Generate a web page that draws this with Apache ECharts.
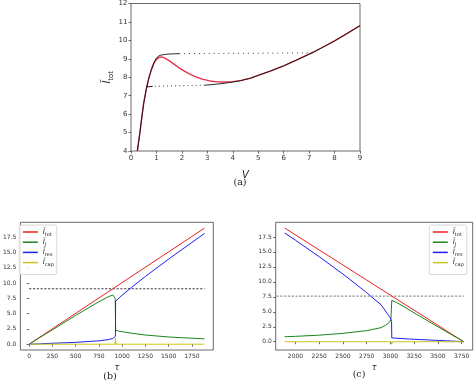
<!DOCTYPE html>
<html><head><meta charset="utf-8">
<script src="https://cdn.jsdelivr.net/npm/echarts@6/dist/echarts.min.js"></script>
<style>html,body{margin:0;padding:0;background:#fff}#c{width:474px;height:386px}</style>
</head><body><div id="c"></div>
<script>
// ---------- panel (a): I-V curve ----------
const aRedV = [0.25,0.3,0.35,0.42,0.5,0.6,0.7,0.8,0.9,1.0,1.1,1.2,1.35,1.5,1.7,1.9,2.2,2.5,2.8,3.1,3.4,3.7,4.0,4.3,4.7,5.0,5.5,6.0,6.5,7.0,7.5,8.0,8.5,9.0];
const aRedI = [4.0,4.5,5.0,5.8,6.6,7.35,7.95,8.4,8.75,8.97,9.08,9.1,9.02,8.9,8.7,8.5,8.25,8.05,7.9,7.8,7.75,7.74,7.76,7.82,7.95,8.1,8.35,8.62,8.93,9.25,9.6,9.97,10.38,10.8];
const aUpV = [0.25,0.35,0.5,0.6,0.7,0.8,0.9,1.0,1.1,1.2,1.35,1.5,1.7,1.9];
const aUpI = [4.0,5.0,6.6,7.35,7.95,8.42,8.8,9.05,9.16,9.21,9.24,9.26,9.27,9.28];
const aUpDotV = [1.9,7.15];
const aUpDotI = [9.28,9.32];
const aLowV = [9.0,8.5,8.0,7.5,7.15,7.0,6.5,6.0,5.5,5.0,4.7,4.3,4.0,3.7,3.4,3.1,2.9];
const aLowI = [10.8,10.38,9.97,9.6,9.34,9.25,8.93,8.62,8.35,8.1,7.95,7.81,7.74,7.68,7.63,7.59,7.57];
const aLowDotV = [2.9,0.6];
const aLowDotI = [7.57,7.5];
const aLowSolidV = [0.6,0.85];
const aLowSolidI = [7.48,7.5];
const aXTicks = [0,1,2,3,4,5,6,7,8,9];
const aYTicks = [4,5,6,7,8,9,10,11,12];

// ---------- panel (b): increasing current ----------
const bTotT = [0,1886];
const bTotV = [0,19];
const bJT = [0,100,250,500,750,850,900,920,926,930,960,1000,1100,1250,1500,1750,1886];
const bJV = [0,0.95,2.35,4.7,6.95,7.75,8.05,8.1,7.5,2.3,2.15,2.05,1.8,1.5,1.18,0.98,0.88];
const bResT = [0,100,250,500,750,850,900,920,928,930,1000,1100,1250,1500,1750,1886];
const bResV = [0,0.05,0.15,0.3,0.55,0.75,0.95,1.1,1.3,7.05,8.02,9.28,11.09,13.93,16.65,18.12];
const bCapT = [0,922,927,932,1886];
const bCapV = [0,0,0.95,0,0];
const bIcT = [0,1886];
const bIcV = 9.07;
const bXTicks = [0,250,500,750,1000,1250,1500,1750];
const yTicksBC = [0,2.5,5,7.5,10,12.5,15,17.5];

// ---------- panel (c): decreasing current ----------
const cTotT = [1886,3772];
const cTotV = [19,0];
const cJT = [1886,2000,2250,2500,2750,2900,2950,2990,3005,3012,3014,3050,3100,3300,3500,3772];
const cJV = [0.83,0.9,1.1,1.4,1.85,2.35,2.75,3.25,3.7,3.9,6.9,6.65,6.25,4.35,2.5,0.0];
const cResT = [1886,2000,2250,2500,2750,2800,2900,2950,2990,3005,3010,3012,3014,3050,3200,3400,3600,3772];
const cResV = [18.17,16.95,14.2,11.3,8.2,7.5,6.2,5.1,4.2,3.75,3.8,3.4,0.65,0.6,0.45,0.3,0.15,0];
const cCapT = [1886,3008,3014,3020,3772];
const cCapV = [0,0,-0.4,0,0];
const cIcT = [1800,3772];
const cIcV = 7.62;
const cXTicks = [2000,2250,2500,2750,3000,3250,3500,3750];

// ---------- helpers ----------
const zip = (xs, ys) => xs.map((x, i) => [x, Array.isArray(ys) ? ys[i] : ys]);
const FONT = 'DejaVu Sans';
const AX = '#444';
const RED = '#ee2020', GREEN = '#1a861a', BLUE = '#2020ee', YEL = '#c6c61c', ARED = '#e2344c';

function tickAxis(o, ticks, fs, margin, fmt) {
  return Object.assign({
    type: 'value',
    axisLine: { show: false },
    axisTick: { show: true, length: 2.5, lineStyle: { color: AX, width: 0.8 }, customValues: ticks },
    axisLabel: { fontSize: fs, color: '#333', fontFamily: FONT, margin, customValues: ticks,
      formatter: fmt || (v => String(v)) },
    splitLine: { show: false }
  }, o);
}
function line(name, xi, yi, data, color, width, extra) {
  return Object.assign({
    name, type: 'line', xAxisIndex: xi, yAxisIndex: yi, data,
    showSymbol: false, symbol: 'none', animation: false, silent: true,
    lineStyle: { color, width }, itemStyle: { color }, label: { show: false }
  }, extra || {});
}
const subRich = {
  i: { fontSize: 7, fontStyle: 'italic', fontFamily: FONT, lineHeight: 7, verticalAlign: 'top', color: '#222' },
  s: { fontSize: 5, fontFamily: FONT, lineHeight: 5, padding: [3.5, 0, 0, 0], verticalAlign: 'top', color: '#222' },
  sj: { fontSize: 5, fontStyle: 'italic', fontFamily: FONT, lineHeight: 5, padding: [3.5, 0, 0, 0], verticalAlign: 'top', color: '#222' }
};
const legendNames = { tot: '{i|Ĩ}{s|tot}', J: '{i|Ĩ}{sj|J}', res: '{i|Ĩ}{s|res}', cap: '{i|Ĩ}{s|cap}' };
function legend(left) {
  return {
    show: true, orient: 'vertical', left, top: 225, data: ['tot', 'J', 'res', 'cap'],
    icon: 'rect', itemWidth: 15, itemHeight: 1.5, itemGap: 1.7,
    padding: [3.5, 3, 7, 3.5], backgroundColor: 'rgba(255,255,255,0.85)',
    borderColor: '#cfcfcf', borderWidth: 0.8, borderRadius: 2, selectedMode: false,
    formatter: n => legendNames[n], textStyle: { rich: subRich }
  };
}
function icLine(xi, yi, ts, v, color) {
  const d = zip(ts, v);
  const last = d.length - 1;
  d[last] = { value: d[last], label: {
    show: true, position: 'right', distance: 1.5, formatter: '{i|Ĩ}{s|c}',
    rich: {
      i: { fontSize: 5, fontStyle: 'italic', fontFamily: FONT, color: '#777', lineHeight: 5, verticalAlign: 'top' },
      s: { fontSize: 3.5, fontFamily: FONT, color: '#777', lineHeight: 3.5, padding: [2.5, 0, 0, 0], verticalAlign: 'top' }
    } } };
  return line('Ic', xi, yi, d, color, 0.9, { lineStyle: { color, width: 0.9, type: [2.2, 1.6] } });
}
const fmt1 = v => v.toFixed(1);
const tauName = { name: 'τ', nameLocation: 'middle', nameGap: 14,
  nameTextStyle: { fontStyle: 'italic', fontSize: 8, fontFamily: FONT, color: '#222' } };

const chart = echarts.init(document.getElementById('c'), null, { renderer: 'canvas' });
chart.setOption({
  animation: false,
  backgroundColor: '#fff',
  grid: [
    { left: 131, top: 2, width: 229, height: 149, show: true, borderColor: AX, borderWidth: 0.8, backgroundColor: 'transparent' },
    { left: 16.7, top: 222.3, width: 196.6, height: 127.7, show: true, borderColor: AX, borderWidth: 0.8, backgroundColor: 'transparent' },
    { left: 275.7, top: 222.3, width: 197, height: 127.7, show: true, borderColor: AX, borderWidth: 0.8, backgroundColor: 'transparent' }
  ],
  xAxis: [
    tickAxis({ gridIndex: 0, min: 0, max: 9, name: 'V', nameLocation: 'middle', nameGap: 19,
      nameTextStyle: { fontStyle: 'italic', fontSize: 10, fontFamily: FONT, color: '#222' } }, aXTicks, 7, 3.5),
    tickAxis(Object.assign({ gridIndex: 1, min: -94.3, max: 1980.3 }, tauName), bXTicks, 6, 3.5),
    tickAxis(Object.assign({ gridIndex: 2, min: 1791.7, max: 3866.3 }, tauName), cXTicks, 6, 3.5)
  ],
  yAxis: [
    tickAxis({ gridIndex: 0, min: 4, max: 12, name: '{i|Ĩ}{s|tot}', nameLocation: 'middle', nameGap: 17, nameRotate: 90,
      nameTextStyle: { rich: {
        i: { fontSize: 10, fontStyle: 'italic', fontFamily: FONT, color: '#222', lineHeight: 10, verticalAlign: 'top' },
        s: { fontSize: 7, fontFamily: FONT, color: '#222', lineHeight: 7, padding: [5, 0, 0, 0], verticalAlign: 'top' } } } },
      aYTicks, 7, 3.5),
    tickAxis({ gridIndex: 1, min: -0.95, max: 19.95 }, yTicksBC, 6, 4, fmt1),
    tickAxis({ gridIndex: 2, min: -1.38, max: 19.95 }, yTicksBC, 6, 4, fmt1)
  ],
  legend: [legend(19.3), legend(429.3)],
  series: [
    // (a)
    line('aRed', 0, 0, zip(aRedV, aRedI), ARED, 1.4),
    line('aUp', 0, 0, zip(aUpV, aUpI), '#111', 0.9),
    line('aUpDot', 0, 0, zip(aUpDotV, aUpDotI), '#111', 0.9, { lineStyle: { color: '#111', width: 0.9, type: [0.9, 4] } }),
    line('aLow', 0, 0, zip(aLowV, aLowI), '#111', 0.9),
    line('aLowDot', 0, 0, zip(aLowDotV, aLowDotI), '#111', 0.9, { lineStyle: { color: '#111', width: 0.9, type: [0.9, 3.2] } }),
    line('aLowSolid', 0, 0, zip(aLowSolidV, aLowSolidI), '#111', 0.9),
    // (b)
    icLine(1, 1, bIcT, bIcV, '#222'),
    line('tot', 1, 1, zip(bTotT, bTotV), RED, 1.0),
    line('J', 1, 1, zip(bJT, bJV), GREEN, 1.0),
    line('res', 1, 1, zip(bResT, bResV), BLUE, 1.0),
    line('cap', 1, 1, zip(bCapT, bCapV), YEL, 1.0),
    // (c)
    icLine(2, 2, cIcT, cIcV, '#666'),
    line('tot', 2, 2, zip(cTotT, cTotV), RED, 1.0),
    line('J', 2, 2, zip(cJT, cJV), GREEN, 1.0),
    line('res', 2, 2, zip(cResT, cResV), BLUE, 1.0),
    line('cap', 2, 2, zip(cCapT, cCapV), YEL, 1.0)
  ],
  graphic: [
    { type: 'text', x: 240, y: 183, style: { text: '(a)', font: '9.5px "DejaVu Serif"', fill: '#222', align: 'center', verticalAlign: 'middle' } },
    { type: 'text', x: 110, y: 377, style: { text: '(b)', font: '9.5px "DejaVu Serif"', fill: '#222', align: 'center', verticalAlign: 'middle' } },
    { type: 'text', x: 359, y: 375, style: { text: '(c)', font: '9.5px "DejaVu Serif"', fill: '#222', align: 'center', verticalAlign: 'middle' } }
  ]
});
</script></body></html>
